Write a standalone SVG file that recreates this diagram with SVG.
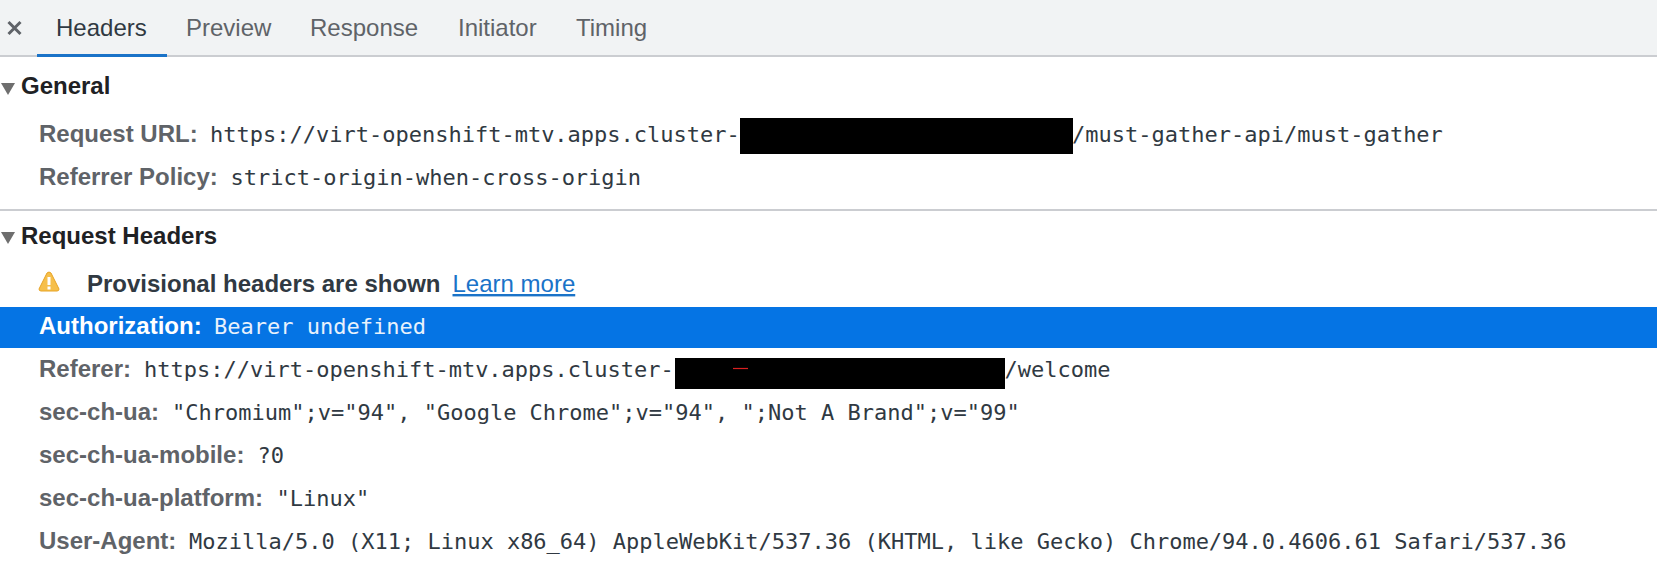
<svg xmlns="http://www.w3.org/2000/svg" width="1657" height="572" viewBox="0 0 1657 572">
<style>
.tab{font:24px "Liberation Sans",Arial,sans-serif;fill:#5f6368}
.h{font:bold 24px "Liberation Sans",Arial,sans-serif;fill:#202124}
.k{font:bold 24px "Liberation Sans",Arial,sans-serif;fill:#5f6368}
.v{font:22px "DejaVu Sans Mono",monospace;fill:#303942}
</style>
<rect width="1657" height="572" fill="#fff"/>
<g id="tabbar">
<rect width="1657" height="55" fill="#f1f3f4"/>
<rect y="55" width="1657" height="2" fill="#cbcdd1"/>
<rect x="37" y="54" width="130" height="3" fill="#1a73c8"/>
<path d="M8.500 22L20.500 34M20.500 22L8.500 34" stroke="#5f6368" stroke-width="3" fill="none"/>
<text class="tab" x="56" y="36" style="fill:#303942">Headers</text>
<text class="tab" x="186" y="36">Preview</text>
<text class="tab" x="310" y="36">Response</text>
<text class="tab" x="458" y="36">Initiator</text>
<text class="tab" x="576" y="36">Timing</text>
</g>
<g id="general">
<path d="M1 83H15L8 95Z" fill="#6e6e6e"/>
<text class="h" x="21" y="94">General</text>
<text class="k" x="39" y="142">Request URL:</text>
<text class="v" x="210" y="142">https://virt-openshift-mtv.apps.cluster-</text>
<rect x="740" y="118" width="333" height="36" fill="#000"/>
<text class="v" x="1072" y="142">/must-gather-api/must-gather</text>
<text class="k" x="39" y="185">Referrer Policy:</text>
<text class="v" x="230.500" y="185">strict-origin-when-cross-origin</text>
</g>
<rect y="209" width="1657" height="2" fill="#cbcdd1"/>
<g id="request-headers">
<path d="M1 232H15L8 244Z" fill="#6e6e6e"/>
<text class="h" x="21" y="244">Request Headers</text>
<path d="M39 289L47 273Q49 271 51 273L59 289Q59 291 57 291H41Q39 291 39 289Z" fill="#f6bf4b" stroke="#e8a425" stroke-width="1"/>
<rect x="47.500" y="277" width="3" height="8" fill="#fff"/>
<rect x="47.500" y="286.500" width="3" height="3" fill="#fff"/>
<text class="h" x="87" y="292" style="fill:#303942">Provisional headers are shown</text>
<text class="tab" x="452.500" y="292" style="fill:#1a73c8;text-decoration:underline">Learn more</text>
<rect y="307" width="1657" height="41" fill="#0574e4"/>
<text class="k" x="39" y="334" style="fill:#fff">Authorization:</text>
<text class="v" x="214" y="334" style="fill:#e8f1fc">Bearer undefined</text>
<text class="k" x="39" y="377">Referer:</text>
<text class="v" x="144" y="377">https://virt-openshift-mtv.apps.cluster-</text>
<rect x="675" y="358" width="330" height="31" fill="#000"/>
<path d="M733 368.500H748" stroke="#d92020" stroke-width="1.200"/>
<text class="v" x="1004.500" y="377">/welcome</text>
<text class="k" x="39" y="420">sec-ch-ua:</text>
<text class="v" x="172" y="420">"Chromium";v="94", "Google Chrome";v="94", ";Not A Brand";v="99"</text>
<text class="k" x="39" y="463">sec-ch-ua-mobile:</text>
<text class="v" x="257.500" y="463">?0</text>
<text class="k" x="39" y="506">sec-ch-ua-platform:</text>
<text class="v" x="276.500" y="506">"Linux"</text>
<text class="k" x="39" y="549">User-Agent:</text>
<text class="v" x="189" y="549">Mozilla/5.0 (X11; Linux x86_64) AppleWebKit/537.36 (KHTML, like Gecko) Chrome/94.0.4606.61 Safari/537.36</text>
</g>
</svg>
